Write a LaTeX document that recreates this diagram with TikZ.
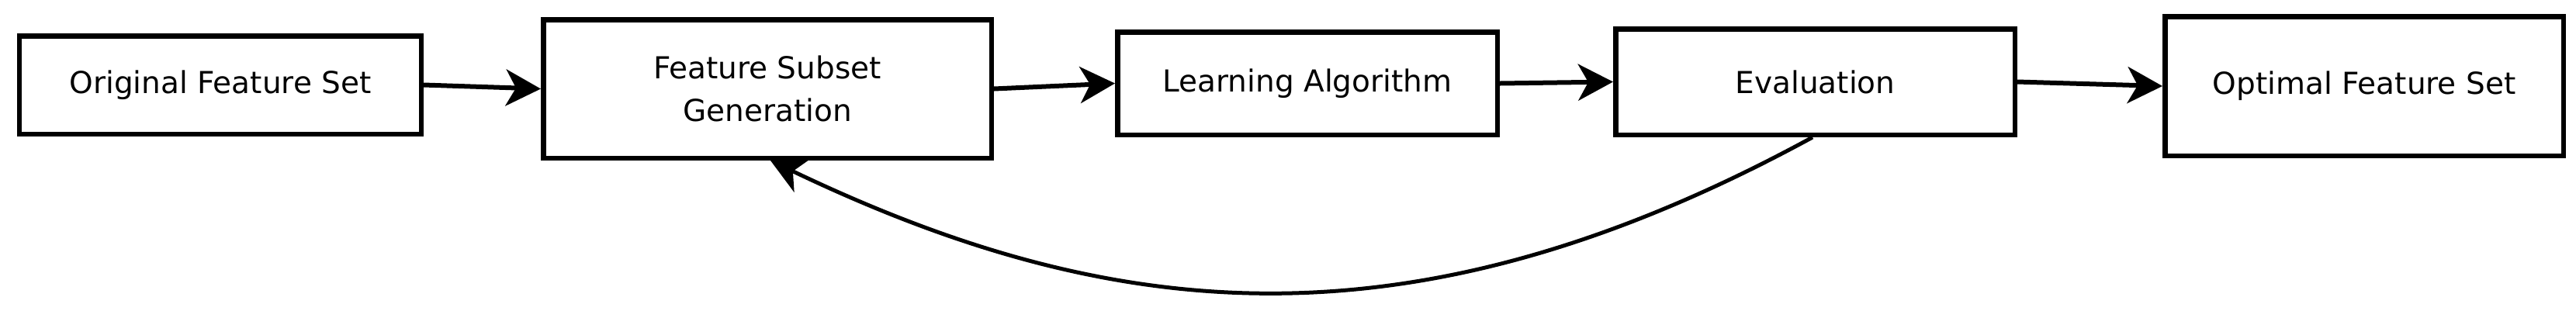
\documentclass[tikz,border=0pt]{standalone}
\usepackage{fontspec}
\setmainfont{DejaVu Sans}
\usetikzlibrary{arrows.meta}
\begin{document}
\begin{tikzpicture}[
  box/.style={draw, line width=0.065cm, inner sep=0pt, align=center,
    font=\fontsize{11.1pt}{15.6pt}\selectfont},
  arr/.style={line width=0.06cm, -{Stealth[length=0.45cm, width=0.47cm, inset=0.13cm]}},
  curvearr/.style={line width=0.05cm, -{Stealth[length=0.45cm, width=0.47cm, inset=0.13cm]}}
]
\useasboundingbox[fill=white] (0,0) rectangle (33.2,4);
\node[box, minimum width=5.175cm, minimum height=1.265cm] (b1) at (2.84,2.905) {Original Feature Set};
\node[box, minimum width=5.775cm, minimum height=1.785cm] (b2) at (9.89,2.855) {Feature Subset\\Generation};
\node[box, minimum width=4.895cm, minimum height=1.325cm] (b3) at (16.85,2.925) {Learning Algorithm};
\node[box, minimum width=5.145cm, minimum height=1.365cm] (b4) at (23.395,2.945) {Evaluation};
\node[box, minimum width=5.135cm, minimum height=1.795cm] (b5) at (30.47,2.89) {Optimal Feature Set};
\draw[arr] (b1.east) -- (b2.west);
\draw[arr] (b2.east) -- (b3.west);
\draw[arr] (b3.east) -- (b4.west);
\draw[arr] (b4.east) -- (b5.west);
\coordinate (ret) at ([xshift=0.04cm]b2.south);
\draw[curvearr] ([xshift=-0.035cm]b4.south) .. controls (18.14,-0.615) and (14.28,-0.15) .. (ret);
\end{tikzpicture}
\end{document}
